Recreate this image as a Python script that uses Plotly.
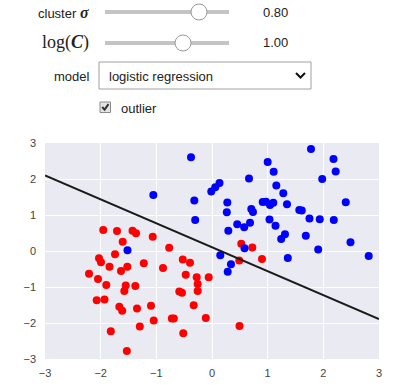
import plotly.graph_objects as go

# ---- data ----
red_x = [-1.953, -1.707, -1.428, -1.365, -1.604, -1.065, -0.769, -0.525, -2.030, -1.742,
         -1.994, -2.209, -1.841, -1.635, -1.521, -1.225, -0.880, -0.395, -2.048, -0.472,
         -0.275, -0.059, -1.899, -1.550, -1.575, -1.378, -0.257, -0.587, -0.539, -0.257,
         -2.071, -1.931, -1.665, -1.613, -1.347, -1.096, -0.329, -1.047, -0.722, -0.686,
         -0.111, -1.297, -1.818, -0.516, -1.530, 0.494, 0.526, 0.724, 0.489, 0.898]
red_y = [0.585, 0.557, 0.565, 0.493, 0.259, 0.398, 0.089, -0.237, -0.203, -0.089,
         -0.315, -0.635, -0.437, -0.557, -0.437, -0.343, -0.474, -0.326, -0.780, -0.660,
         -0.730, -0.730, -0.947, -0.961, -1.114, -0.975, -0.914, -1.128, -1.162, -1.114,
         -1.365, -1.345, -1.546, -1.657, -1.596, -1.524, -1.510, -1.930, -1.875, -1.875,
         -1.861, -2.097, -2.228, -2.284, -2.777, -2.081, 0.201, 0.097, -0.265, -0.223]

blue_x = [-0.377, 1.778, 1.000, 2.183, 2.222, 1.108, 0.665, 1.980, 0.135, 0.059,
          -0.013, 1.155, 1.281, -1.054, -0.318, 0.275, 0.911, 0.970, 1.042, 1.101,
          1.347, 2.403, 0.266, 0.706, 0.736, 1.568, 1.613, -0.302, 1.033, 1.751,
          1.936, 2.188, 0.453, 0.578, 0.683, 1.141, 0.293, 1.311, 1.243, 1.685,
          2.488, 1.908, 0.149, 0.584, 1.362, 2.815, 0.341, 0.282, -1.518]
blue_y = [2.604, 2.836, 2.471, 2.557, 2.209, 2.201, 2.014, 1.997, 1.886, 1.769,
          1.652, 1.816, 1.607, 1.554, 1.401, 1.345, 1.359, 1.370, 1.281, 1.343,
          1.301, 1.357, 1.078, 1.164, 1.086, 1.136, 1.123, 0.858, 0.877, 0.905,
          0.883, 0.864, 0.744, 0.663, 0.788, 0.702, 0.565, 0.468, 0.334, 0.426,
          0.242, 0.042, -0.117, 0.075, -0.195, -0.139, -0.368, -0.577, 0.019]

boundary_x = [-3, 3]
boundary_y = [2.10, -1.89]

tick_vals = [-3, -2, -1, 0, 1, 2, 3]

sigma_label = "0.80"
logc_label = "1.00"
model_name = "logistic regression"

# ---- layout helpers (pixel -> paper) ----
L, R, T, B = 45, 379, 143, 359
def px(x):
    return (x - L) / (R - L)
def py(y):
    return (B - y) / (B - T)

fig = go.Figure()
fig.add_trace(go.Scatter(x=red_x, y=red_y, mode="markers",
                         marker=dict(color="#ff0000", size=8, line=dict(width=0)),
                         showlegend=False, hoverinfo="skip"))
fig.add_trace(go.Scatter(x=blue_x, y=blue_y, mode="markers",
                         marker=dict(color="#0000ff", size=8, line=dict(width=0)),
                         showlegend=False, hoverinfo="skip"))
fig.add_trace(go.Scatter(x=boundary_x, y=boundary_y, mode="lines",
                         line=dict(color="#1a1a1a", width=2),
                         showlegend=False, hoverinfo="skip"))

shapes = []
# slider tracks
for yc in (12, 43):
    shapes.append(dict(type="line", xref="paper", yref="paper",
                       x0=px(105), x1=px(229), y0=py(yc), y1=py(yc),
                       line=dict(color="#c4c4c4", width=4)))
# slider handles
for xc, yc in ((199, 12), (183, 43)):
    shapes.append(dict(type="circle", xref="paper", yref="paper",
                       x0=px(xc - 8), x1=px(xc + 8), y0=py(yc + 8), y1=py(yc - 8),
                       fillcolor="white", line=dict(color="#9a9a9a", width=1)))
# dropdown box
shapes.append(dict(type="rect", xref="paper", yref="paper",
                   x0=px(99), x1=px(311), y0=py(89), y1=py(62),
                   fillcolor="white", line=dict(color="#a0a0a0", width=1)))
# chevron
shapes.append(dict(type="path", xref="paper", yref="paper",
                   path=f"M {px(296)} {py(73)} L {px(300.5)} {py(77.5)} L {px(305)} {py(73)}",
                   line=dict(color="#111", width=2)))
# checkbox
shapes.append(dict(type="rect", xref="paper", yref="paper",
                   x0=px(100), x1=px(110.5), y0=py(112.5), y1=py(102),
                   fillcolor="#e4e4e4", line=dict(color="#8a8a8a", width=1)))
shapes.append(dict(type="path", xref="paper", yref="paper",
                   path=f"M {px(102.2)} {py(107)} L {px(104.6)} {py(109.6)} L {px(108.5)} {py(104.2)}",
                   line=dict(color="#333", width=2)))

sans = "Liberation Sans, Arial, sans-serif"
serif = "Liberation Serif, Times New Roman, serif"
ann = []
def add_text(text, x, y, anchor, size=13, family=sans):
    ann.append(dict(text=text, xref="paper", yref="paper", x=px(x), y=py(y),
                    xanchor=anchor, yanchor="middle", showarrow=False,
                    font=dict(family=family, size=size, color="#222")))

add_text("cluster <span style='font-family:Liberation Serif;font-size:16px'><b><i>σ</i></b></span>",
         91, 12, "right")
add_text("log(<b><i>C</i></b>)", 91, 43, "right", size=18, family=serif)
add_text(sigma_label, 275, 12, "center")
add_text(logc_label, 275, 43, "center")
add_text("model", 92, 76, "right")
add_text(model_name, 107, 76, "left")
add_text("outlier", 119, 108, "left")

fig.update_layout(
    width=397, height=391,
    margin=dict(l=L, r=397 - R, t=T, b=391 - B),
    paper_bgcolor="white", plot_bgcolor="#eaeaf2",
    shapes=shapes, annotations=ann,
    xaxis=dict(range=[-3, 3], tickvals=tick_vals, showgrid=True, gridcolor="white",
               gridwidth=1.2, zeroline=False, showline=False, ticks="",
               tickfont=dict(family=sans, size=11, color="#444"), ticklabelstandoff=6,
               fixedrange=True),
    yaxis=dict(range=[-3, 3], tickvals=tick_vals, showgrid=True, gridcolor="white",
               gridwidth=1.2, zeroline=False, showline=False, ticks="",
               tickfont=dict(family=sans, size=11, color="#444"), ticklabelstandoff=8,
               fixedrange=True),
)

fig.write_html("out.html", config={"displayModeBar": False},
               post_script="document.body.style.margin='0';document.body.style.overflow='hidden';")
